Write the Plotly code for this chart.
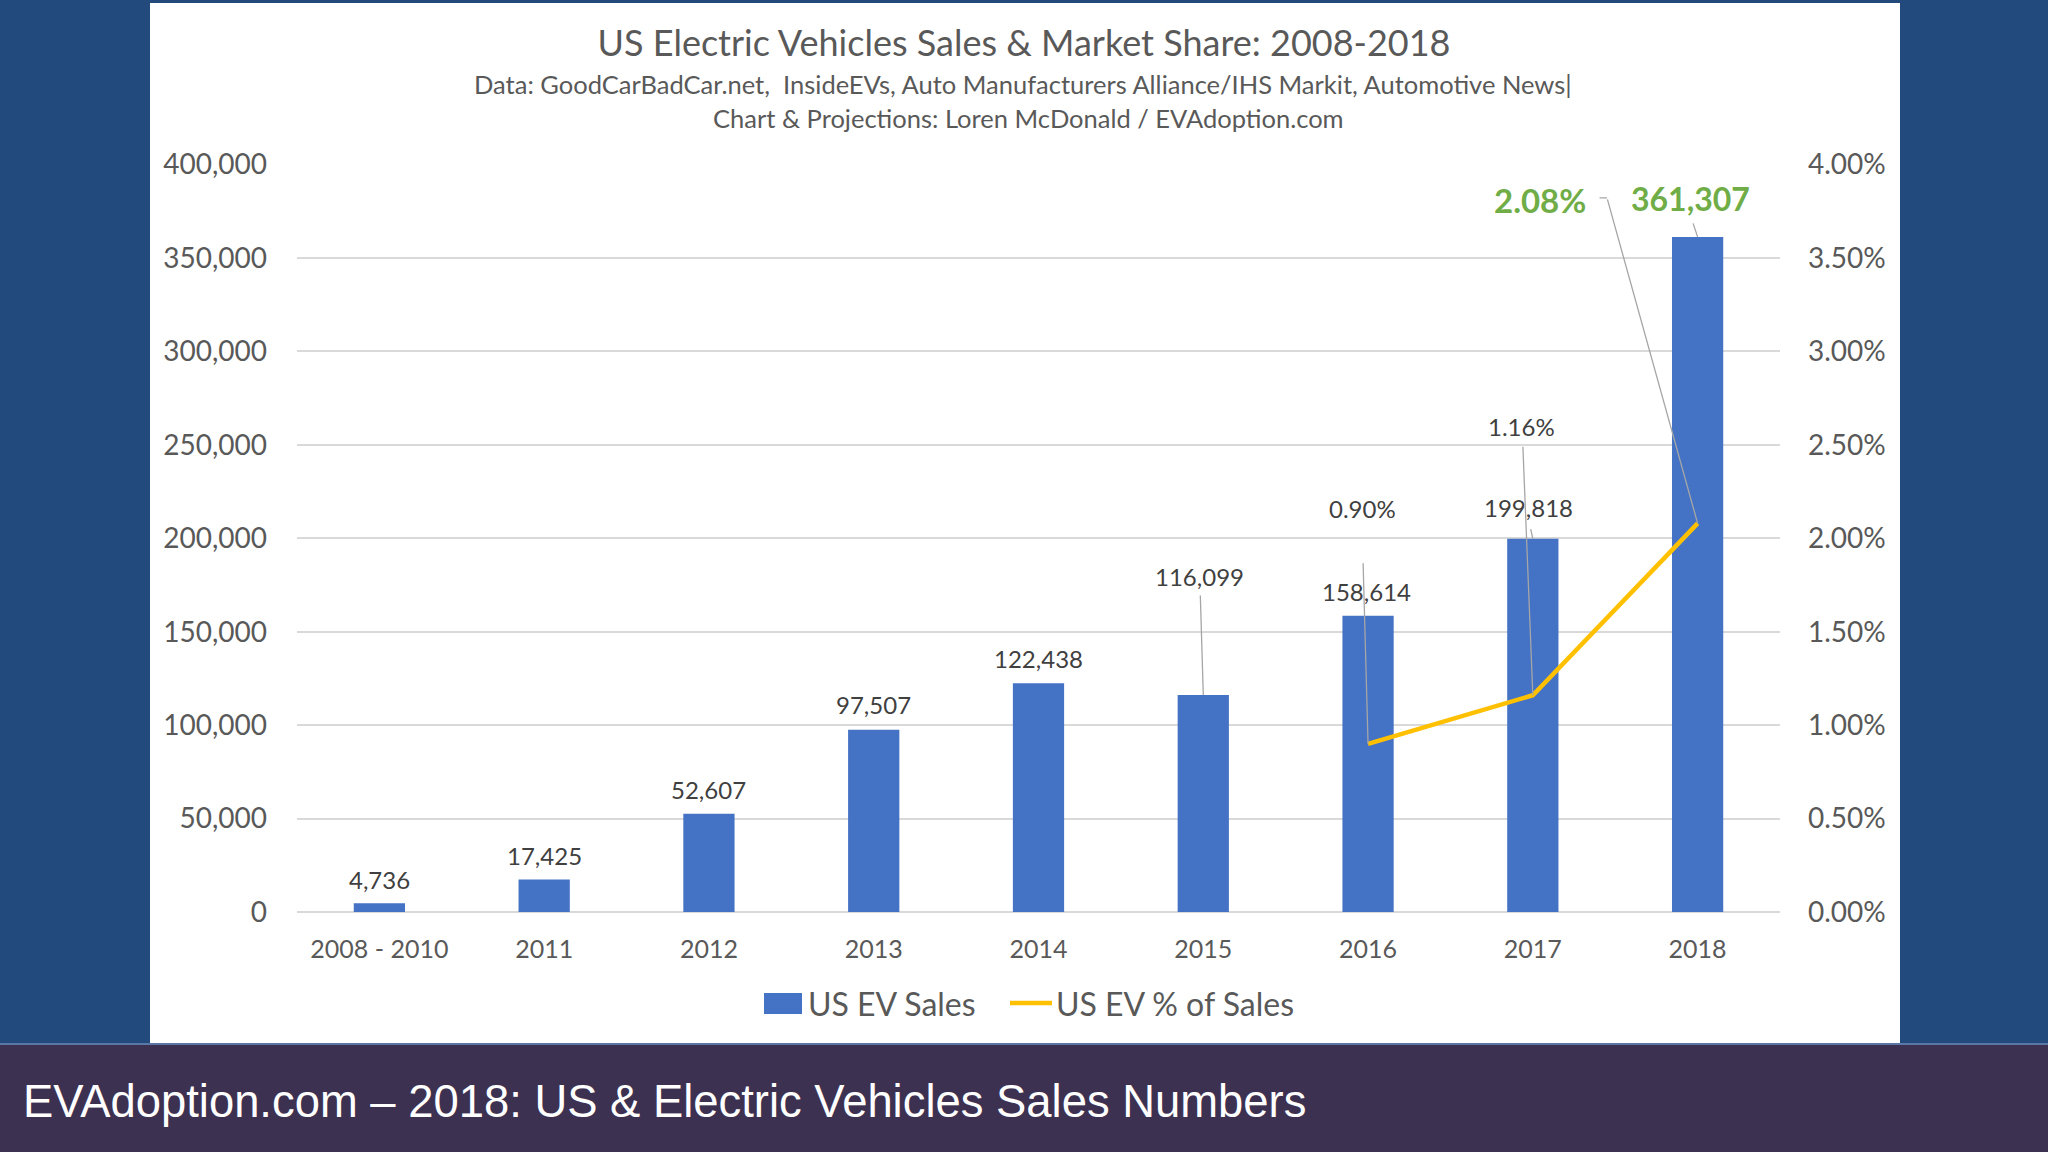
import plotly.graph_objects as go

# ---------------- data ----------------
years = ["2008 - 2010", "2011", "2012", "2013", "2014", "2015", "2016", "2017", "2018"]
ev_sales = [4736, 17425, 52607, 97507, 122438, 116099, 158614, 199818, 361307]
ev_share = [None, None, None, None, None, None, 0.0090, 0.0116, 0.0208]
series_names = ["US EV Sales", "US EV % of Sales"]

title = "US Electric Vehicles Sales & Market Share: 2008-2018"
subtitle1 = "Data: GoodCarBadCar.net,  InsideEVs, Auto Manufacturers Alliance/IHS Markit, Automotive News|"
subtitle2 = "Chart & Projections: Loren McDonald / EVAdoption.com"
banner = "EVAdoption.com \u2013 2018: US & Electric Vehicles Sales Numbers"

# ---------------- styling / layout ----------------
W, H = 2048, 1152
BAR = "#4472c4"
LINE = "#ffc000"
GREEN = "#70ad47"
GRID = "#d9d9d9"
TXT = "#595959"
LBL = "#404040"
LEAD = "#a6a6a6"
FRAME = "#234a7c"
BANNER = "#3d3151"
FONT = "Lato"

# plot area in pixels
PX0, PX1, PY0, PY1 = 297, 1780, 164.6, 912

# label placement (pixel shifts, dy positive = up) and leader lines (tail offsets)
sales_shift = [(0, 24), (0, 24), (0, 24), (0, 25), (0, 25), (-4, 119), (-2, 24), (-4, 31), (-7, 38)]
sales_leader = [None, None, None, None, None, (-3, -101), None, (-2.5, -11), (-5, -15)]
share_shift = {6: (-6, 235), 7: (-11, 269), 8: (-158, 323)}
share_leader = {6: (-5, -182), 7: (-10, -250), 8: (-90.6, -325.4)}


def px(x):
    return x / W


def py(y):
    return 1 - y / H


fig = go.Figure()
fig.add_trace(go.Bar(
    x=years, y=ev_sales, name=series_names[0], marker=dict(color=BAR, line=dict(width=0)),
    yaxis="y", hoverinfo="skip", showlegend=False))
fig.add_trace(go.Scatter(
    x=years, y=ev_share, name=series_names[1], mode="lines",
    line=dict(color=LINE, width=4.5), yaxis="y2", hoverinfo="skip", showlegend=False))

ann = []
n = len(years)
for i, v in enumerate(ev_sales):
    last = i == n - 1
    dx, dy = sales_shift[i]
    ann.append(dict(
        x=i, y=v, xref="x", yref="y", text=f"{v:,}", showarrow=False,
        xshift=dx, yshift=dy, xanchor="center", yanchor="middle",
        font=dict(family=FONT, size=32 if last else 24, color=GREEN if last else LBL,
                  weight="bold" if last else "normal")))
    if sales_leader[i] is not None:
        ax, ay = sales_leader[i]
        ann.append(dict(x=i, y=v, xref="x", yref="y", text="", showarrow=True,
                        ax=ax, ay=ay, arrowhead=0, arrowwidth=1.3, arrowcolor=LEAD, standoff=0))

for i, p in enumerate(ev_share):
    if p is None:
        continue
    last = i == n - 1
    dx, dy = share_shift[i]
    ann.append(dict(
        x=i, y=p, xref="x", yref="y2", text=f"{p*100:.2f}%", showarrow=False,
        xshift=dx, yshift=dy, xanchor="center", yanchor="middle",
        font=dict(family=FONT, size=33 if last else 24, color=GREEN if last else LBL,
                  weight="bold" if last else "normal")))
    ax, ay = share_leader[i]
    ann.append(dict(x=i, y=p, xref="x", yref="y2", text="", showarrow=True,
                    ax=ax, ay=ay, arrowhead=0, arrowwidth=1.3, arrowcolor=LEAD, standoff=0))
    if last:
        ann.append(dict(x=i, y=p, xref="x", yref="y2", text="", showarrow=True,
                        xshift=ax, yshift=-ay, ax=-9, ay=0,
                        arrowhead=0, arrowwidth=1.3, arrowcolor=LEAD, standoff=0))

# subtitles & banner text
ann.append(dict(x=px(1023), y=py(83.6), xref="paper", yref="paper", text=subtitle1,
                showarrow=False, xanchor="center", yanchor="middle",
                font=dict(family=FONT, size=25.5, color=TXT)))
ann.append(dict(x=px(1028), y=py(117.5), xref="paper", yref="paper", text=subtitle2,
                showarrow=False, xanchor="center", yanchor="middle",
                font=dict(family=FONT, size=25.5, color=TXT)))
ann.append(dict(x=px(21), y=py(1101), xref="paper", yref="paper", text=banner,
                showarrow=False, xanchor="left", yanchor="middle",
                font=dict(family="Liberation Sans, Arial", size=45.4, color="white")))

# legend (drawn manually to match the wide key symbols)
LEG_Y = 1003
ann.append(dict(x=px(806), y=py(LEG_Y), xref="paper", yref="paper", text=series_names[0],
                showarrow=False, xanchor="left", yanchor="middle",
                font=dict(family=FONT, size=32, color=TXT)))
ann.append(dict(x=px(1054), y=py(LEG_Y), xref="paper", yref="paper", text=series_names[1],
                showarrow=False, xanchor="left", yanchor="middle",
                font=dict(family=FONT, size=32, color=TXT)))

shapes = [
    dict(type="rect", xref="paper", yref="paper", x0=0, x1=px(150), y0=0, y1=1,
         fillcolor=FRAME, line=dict(width=0), layer="below"),
    dict(type="rect", xref="paper", yref="paper", x0=px(1900), x1=1, y0=0, y1=1,
         fillcolor=FRAME, line=dict(width=0), layer="below"),
    dict(type="rect", xref="paper", yref="paper", x0=0, x1=1, y0=py(3), y1=1,
         fillcolor=FRAME, line=dict(width=0), layer="below"),
    dict(type="rect", xref="paper", yref="paper", x0=0, x1=1, y0=0, y1=py(1043),
         fillcolor=BANNER, line=dict(width=0), layer="below"),
    dict(type="line", xref="paper", yref="paper", x0=0, x1=1, y0=py(1044), y1=py(1044),
         line=dict(color="#5b77a8", width=2)),
    # legend keys
    dict(type="rect", xref="paper", yref="paper", x0=px(764), x1=px(802),
         y0=py(1014), y1=py(993), fillcolor=BAR, line=dict(width=0)),
    dict(type="line", xref="paper", yref="paper", x0=px(1010), x1=px(1052),
         y0=py(LEG_Y), y1=py(LEG_Y), line=dict(color=LINE, width=4.5)),
]

fig.update_layout(
    width=W, height=H, margin=dict(l=0, r=0, t=0, b=0),
    paper_bgcolor="white", plot_bgcolor="white",
    font=dict(family=FONT, color=TXT),
    title=dict(text=title, x=0.5, xanchor="center", xref="paper",
               y=py(43), yanchor="middle", yref="paper",
               font=dict(family=FONT, size=36, color=TXT)),
    bargap=0.689,
    showlegend=False,
    xaxis=dict(domain=[px(PX0), px(PX1)], type="category", range=[-0.5, n - 0.5],
               autorange=False, showgrid=False, showline=False,
               zeroline=False, ticks="", tickfont=dict(family=FONT, size=25, color=TXT),
               ticklabelstandoff=20, automargin=False),
    yaxis=dict(domain=[py(PY1), py(PY0)], range=[0, 400000], autorange=False,
               dtick=50000, tickformat=",", showgrid=True, gridcolor=GRID, gridwidth=1.5,
               zeroline=True, zerolinecolor=GRID, zerolinewidth=1.5, showline=False,
               ticks="", tickfont=dict(family=FONT, size=28, color=TXT),
               ticklabelstandoff=29, automargin=False),
    yaxis2=dict(overlaying="y", side="right", range=[0, 0.04], autorange=False, dtick=0.005,
                tickformat=".2%", showgrid=False, zeroline=False, showline=False,
                ticks="", tickfont=dict(family=FONT, size=28, color=TXT),
                ticklabelstandoff=27, automargin=False),
    annotations=ann,
    shapes=shapes,
)

fig.write_html("out.html")
